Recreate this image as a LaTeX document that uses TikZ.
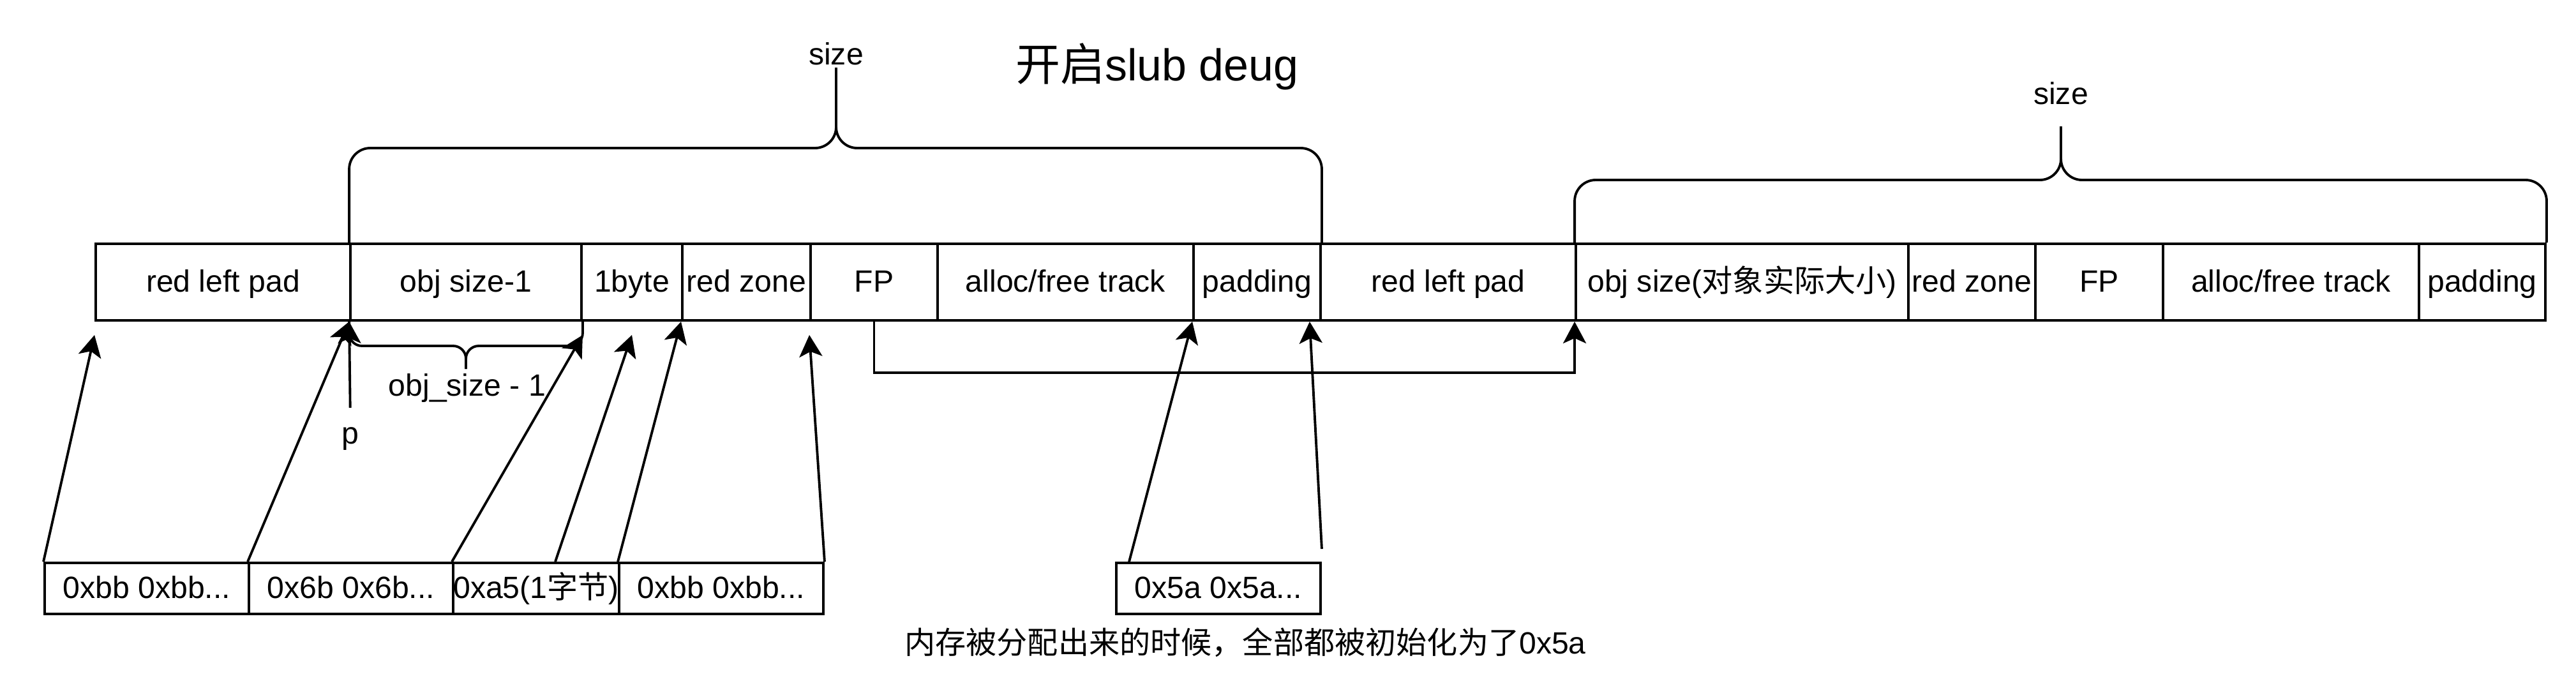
\documentclass[tikz,border=0pt]{standalone}
\usepackage{fontspec}
\setmainfont{Liberation Sans}
\newfontfamily\cjk{Noto Sans CJK SC}
\usetikzlibrary{arrows.meta,calc}

\begin{document}
\begin{tikzpicture}[y=-1cm,
    font=\fontsize{13.7pt}{16pt}\selectfont,
    cell/.style={draw, line width=1.1pt, inner sep=0pt, minimum height=1.2cm,
      text height=1em, text depth=0.1em},
    valbox/.style={draw, line width=1.1pt, inner sep=0pt, minimum height=0.8cm,
      text height=1em, text depth=0.1em},
    arr/.style={line width=1.1pt, -{Stealth[length=0.34cm,width=0.36cm,inset=0.08cm]}},
    brace/.style={line width=1.1pt, rounded corners=0.33cm},
    lbl/.style={inner sep=1pt}]
  \useasboundingbox (0,0) rectangle (40.36,10.88);
  \node [lbl, font=\fontsize{19.9pt}{24pt}\selectfont] (title) at (18.13,1.04) {{\cjk 开启}slub deug};
  \foreach \l/\r/\t [count=\i] in {1.50/5.49/red left pad, 5.49/9.11/obj size-1,
      9.11/10.69/1byte, 10.69/12.70/red zone, 12.70/14.69/FP,
      14.69/18.70/{alloc/free track}, 18.70/20.69/padding, 20.69/24.69/red left pad,
      24.69/29.90/obj size({\cjk 对象实际大小}), 29.90/31.89/red zone, 31.89/33.89/FP,
      33.89/37.90/{alloc/free track}, 37.90/39.88/padding}
    \node [cell, minimum width=(\r-\l)*1cm] (c\i) at ({(\l+\r)/2},4.42) {\t};
  \foreach \x/\w/\t [count=\i] in {2.30/3.20/{0xbb 0xbb...}, 5.50/3.20/{0x6b 0x6b...},
      8.40/2.60/{0xa5(1{\cjk 字节})}, 11.30/3.20/{0xbb 0xbb...}}
    \node [valbox, minimum width=\w cm] (b\i) at (\x,9.22) {\t};
  \node [valbox, minimum width=3.20cm] (b5) at (19.09,9.22) {0x5a 0x5a...};
  \node [lbl] (size1) at (13.10,0.84) {size};
  \node [lbl] (size2) at (32.29,1.46) {size};
  \node [lbl] (objlen) at (7.32,6.08) {obj\_size - 1};
  \node [lbl] (p) at (5.49,6.88) {p};
  \node [lbl] (note) at (19.51,10.07) {{\cjk 内存被分配出来的时候，全部都被初始化为了}0x5a};

  \coordinate (k1) at (13.10,2.32);
  \coordinate (k2) at (32.29,2.82);
  \coordinate (k3) at (7.30,5.42);
  \draw [brace] (c2.north west) |- (k1) -- (size1.south);
  \draw [brace] (c7.north east) |- (k1) -- ++(0,-0.4);
  \draw [brace] (c9.north west) |- (k2) -- ++(0,-0.84);
  \draw [brace] (c13.north east) |- (k2) -- ++(0,-0.84);
  \draw [brace, rounded corners=0.2cm] (c2.south west) |- (k3) -- ++(0,0.36);
  \draw [brace, rounded corners=0.2cm] (c2.south east) |- (k3) -- ++(0,0.36);

  \coordinate (t1) at ($(c1.south west)+(0,0.21)$);
  \coordinate (t3) at ($(c2.south east)+(0,0.21)$);
  \coordinate (t4) at ($(c3.south)+(0,0.21)$);
  \coordinate (t6) at ($(c5.south west)+(0,0.21)$);
  \draw [arr] (b1.north west) -- (t1);
  \draw [arr] (b2.north west) -- (c2.south west);
  \draw [arr] (b3.north west) -- (t3);
  \draw [arr] ($(b3.north)+(0.30,0)$) -- (t4);
  \draw [arr] (b4.north west) -- (c4.south west);
  \draw [arr] (b4.north east) -- (t6);
  \draw [arr, shorten <=0.27cm] (p.north) -- (c2.south west);
  \draw [arr] ($(b5.north west)+(0.22,0)$) -- (c7.south west);
  \draw [arr] ($(b5.north east)+(0,-0.20)$) -- ($(c7.south east)+(-0.19,0)$);
  \draw [arr] (c5.south) -- ++(0,0.80) -| (c9.south west);
\end{tikzpicture}
\end{document}
